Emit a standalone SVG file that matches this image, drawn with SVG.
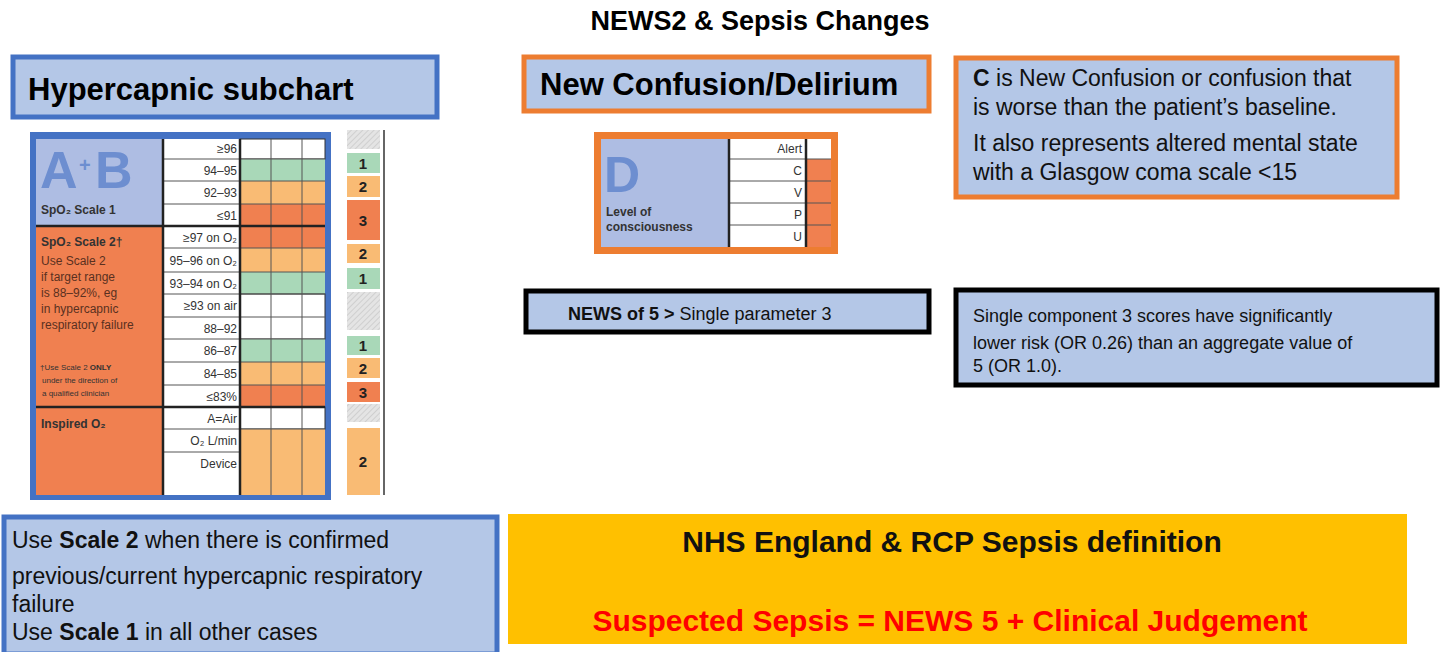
<svg xmlns="http://www.w3.org/2000/svg" width="1440" height="652" viewBox="0 0 1440 652">
<defs>
<pattern id="hatch" width="4" height="4" patternUnits="userSpaceOnUse" patternTransform="rotate(45)"><rect width="4" height="4" fill="#e4e4e4"/><line x1="0" y1="0" x2="0" y2="4" stroke="#c8c8c8" stroke-width="1.5"/></pattern>
<style>
text{font-family:"Liberation Sans",Arial,sans-serif}
.bb{fill:#b4c7e7;stroke:#4472c4;stroke-width:5}
.ob{fill:#b4c7e7;stroke:#ed7d31;stroke-width:5}
.kb{fill:#b4c7e7;stroke:#000;stroke-width:5}
.w{fill:#fff;stroke:#333;stroke-width:1}
.g{fill:#a9d8b8}.a{fill:#f9bb74}.r{fill:#f08050}
.v{font-size:12px;fill:#333;text-anchor:end}
.n{font-size:15px;font-weight:bold;fill:#222;text-anchor:middle}
</style>
</defs>
<rect width="1440" height="652" fill="#fff"/>
<text x="760" y="30" font-size="27" font-weight="bold" text-anchor="middle">NEWS2 &amp; Sepsis Changes</text>

<g id="hypercapnic-title"><rect class="bb" x="13" y="57" width="424" height="60"/><text x="28" y="100" font-size="31" font-weight="bold">Hypercapnic subchart</text></g>

<g id="ab-chart">
<rect x="30" y="132" width="301" height="368" fill="#4472c4"/>
<rect x="36" y="139" width="127" height="87" fill="#aebde3"/>
<rect x="36" y="226" width="127" height="269" fill="#f08050"/>
<text x="40" y="188" font-size="52" font-weight="bold" fill="#6d8ed0">A</text>
<text x="79" y="172" font-size="20" font-weight="bold" fill="#6d8ed0">+</text>
<text x="95" y="188" font-size="52" font-weight="bold" fill="#6d8ed0">B</text>
<text x="41" y="214" font-size="12" font-weight="bold" fill="#333">SpO₂ Scale 1</text>
<text x="41" y="246" font-size="12" font-weight="bold" fill="#333">SpO₂ Scale 2†</text>
<g font-size="12" fill="#5a3020"><text x="41" y="265">Use Scale 2</text><text x="41" y="281">if target range</text><text x="41" y="297">is 88–92%, eg</text><text x="41" y="313">in hypercapnic</text><text x="41" y="329">respiratory failure</text></g>
<g font-size="8" fill="#333"><text x="40" y="370">†Use Scale 2 <tspan font-weight="bold">ONLY</tspan></text><text x="42" y="383">under the direction of</text><text x="42" y="396">a qualified clinician</text></g>
<text x="41" y="428" font-size="12" font-weight="bold" fill="#333">Inspired O₂</text>
<rect x="163" y="139" width="162" height="356" fill="#fff"/>
<g>
<rect class="w" x="240" y="139" width="85" height="20"/>
<rect class="g" x="240" y="159" width="85" height="22"/>
<rect class="a" x="240" y="181" width="85" height="23"/>
<rect class="r" x="240" y="204" width="85" height="22"/>
<rect class="r" x="240" y="226" width="85" height="22"/>
<rect class="a" x="240" y="248" width="85" height="24"/>
<rect class="g" x="240" y="272" width="85" height="22"/>
<rect class="w" x="240" y="294" width="85" height="45"/>
<rect class="g" x="240" y="339" width="85" height="23"/>
<rect class="a" x="240" y="362" width="85" height="23"/>
<rect class="r" x="240" y="385" width="85" height="22"/>
<rect class="w" x="240" y="407" width="85" height="22"/>
<rect class="a" x="240" y="429" width="85" height="66"/>
</g>
<g stroke="#555" stroke-width="1"><line x1="271" y1="139" x2="271" y2="495"/><line x1="302" y1="139" x2="302" y2="495"/>
<line x1="163" y1="159" x2="325" y2="159"/><line x1="163" y1="181" x2="325" y2="181"/><line x1="163" y1="204" x2="325" y2="204"/><line x1="163" y1="248" x2="325" y2="248"/><line x1="163" y1="272" x2="325" y2="272"/><line x1="163" y1="294" x2="325" y2="294"/><line x1="163" y1="317" x2="325" y2="317"/><line x1="163" y1="339" x2="325" y2="339"/><line x1="163" y1="362" x2="325" y2="362"/><line x1="163" y1="385" x2="325" y2="385"/><line x1="163" y1="429" x2="325" y2="429"/><line x1="163" y1="452" x2="240" y2="452"/></g>
<g stroke="#222" stroke-width="2.5"><line x1="36" y1="226" x2="325" y2="226"/><line x1="36" y1="407" x2="325" y2="407"/><line x1="163" y1="139" x2="163" y2="495"/><line x1="240" y1="139" x2="240" y2="495"/></g>
<g class="v"><text x="237" y="153">≥96</text><text x="237" y="175">94–95</text><text x="237" y="197">92–93</text><text x="237" y="220">≤91</text><text x="237" y="242">≥97 on O₂</text><text x="237" y="265">95–96 on O₂</text><text x="237" y="288">93–94 on O₂</text><text x="237" y="310">≥93 on air</text><text x="237" y="333">88–92</text><text x="237" y="355">86–87</text><text x="237" y="378">84–85</text><text x="237" y="401">≤83%</text><text x="237" y="423">A=Air</text><text x="237" y="445">O₂ L/min</text><text x="237" y="468">Device</text></g>
</g>

<g id="score-column">
<line x1="384" y1="130" x2="384" y2="495" stroke="#333" stroke-width="1.5"/>
<rect fill="url(#hatch)" x="347" y="130" width="33" height="19"/>
<rect class="g" x="347" y="153" width="33" height="20"/><text class="n" x="363" y="169">1</text>
<rect class="a" x="347" y="176" width="33" height="21"/><text class="n" x="363" y="192">2</text>
<rect class="r" x="347" y="200" width="33" height="40"/><text class="n" x="363" y="226">3</text>
<rect class="a" x="347" y="244" width="33" height="19"/><text class="n" x="363" y="259">2</text>
<rect class="g" x="347" y="268" width="33" height="21"/><text class="n" x="363" y="284">1</text>
<rect fill="url(#hatch)" x="347" y="292" width="33" height="38"/>
<rect class="g" x="347" y="336" width="33" height="19"/><text class="n" x="363" y="351">1</text>
<rect class="a" x="347" y="358" width="33" height="20"/><text class="n" x="363" y="374">2</text>
<rect class="r" x="347" y="382" width="33" height="20"/><text class="n" x="363" y="398">3</text>
<rect fill="url(#hatch)" x="347" y="404" width="33" height="18"/>
<rect class="a" x="347" y="428" width="33" height="67"/><text class="n" x="363" y="467">2</text>
</g>

<g id="scale-note"><rect class="bb" x="4" y="517" width="493" height="137"/>
<g font-size="23" fill="#111"><text x="12" y="548">Use <tspan font-weight="bold">Scale 2</tspan> when there is confirmed</text><text x="12" y="584">previous/current hypercapnic respiratory</text><text x="12" y="612">failure</text><text x="12" y="640">Use <tspan font-weight="bold">Scale 1</tspan> in all other cases</text></g></g>

<g id="confusion-title"><rect class="ob" x="524" y="57" width="405" height="54"/><text x="540" y="95" font-size="31" font-weight="bold">New Confusion/Delirium</text></g>

<g id="d-chart">
<rect x="594" y="132" width="244" height="122" fill="#ed7d31"/>
<rect x="601" y="139" width="128" height="108" fill="#aebde3"/>
<text x="604" y="192" font-size="50" font-weight="bold" fill="#6d8ed0">D</text>
<text x="606" y="216" font-size="12" font-weight="bold" fill="#333">Level of</text>
<text x="606" y="231" font-size="12" font-weight="bold" fill="#333">consciousness</text>
<rect x="729" y="139" width="102" height="108" fill="#fff"/>
<rect class="r" x="807" y="159" width="24" height="88"/>
<g stroke="#555" stroke-width="1"><line x1="729" y1="159" x2="831" y2="159"/><line x1="729" y1="181" x2="831" y2="181"/><line x1="729" y1="203" x2="831" y2="203"/><line x1="729" y1="225" x2="831" y2="225"/></g>
<g stroke="#222" stroke-width="2.5"><line x1="729" y1="139" x2="729" y2="247"/><line x1="806" y1="139" x2="806" y2="247"/></g>
<g class="v"><text x="802" y="153">Alert</text><text x="802" y="175">C</text><text x="802" y="197">V</text><text x="802" y="219">P</text><text x="802" y="241">U</text></g>
</g>

<g id="confusion-note"><rect class="ob" x="956" y="58" width="441" height="139"/>
<g font-size="23" fill="#111"><text x="973" y="86"><tspan font-weight="bold">C</tspan> is New Confusion or confusion that</text><text x="973" y="115">is worse than the patient’s baseline.</text><text x="973" y="151">It also represents altered mental state</text><text x="973" y="180">with a Glasgow coma scale &lt;15</text></g></g>

<g id="news-rule"><rect class="kb" x="526" y="291" width="403" height="41"/><text x="568" y="320" font-size="18" fill="#111"><tspan font-weight="bold">NEWS of 5 &gt;</tspan> Single parameter 3</text></g>

<g id="risk-note"><rect class="kb" x="956" y="290" width="481" height="95"/>
<g font-size="18" fill="#111"><text x="973" y="322">Single component 3 scores have significantly</text><text x="973" y="349">lower risk (OR 0.26) than an aggregate value of</text><text x="973" y="372">5 (OR 1.0).</text></g></g>

<g id="sepsis-def"><rect x="508" y="514" width="899" height="130" fill="#ffc000"/>
<text x="952" y="552" font-size="30" font-weight="bold" text-anchor="middle" fill="#111">NHS England &amp; RCP Sepsis definition</text>
<text x="950" y="631" font-size="30" font-weight="bold" text-anchor="middle" fill="#ff0000">Suspected Sepsis = NEWS 5 + Clinical Judgement</text></g>
<g id="connectors"/>
</svg>
